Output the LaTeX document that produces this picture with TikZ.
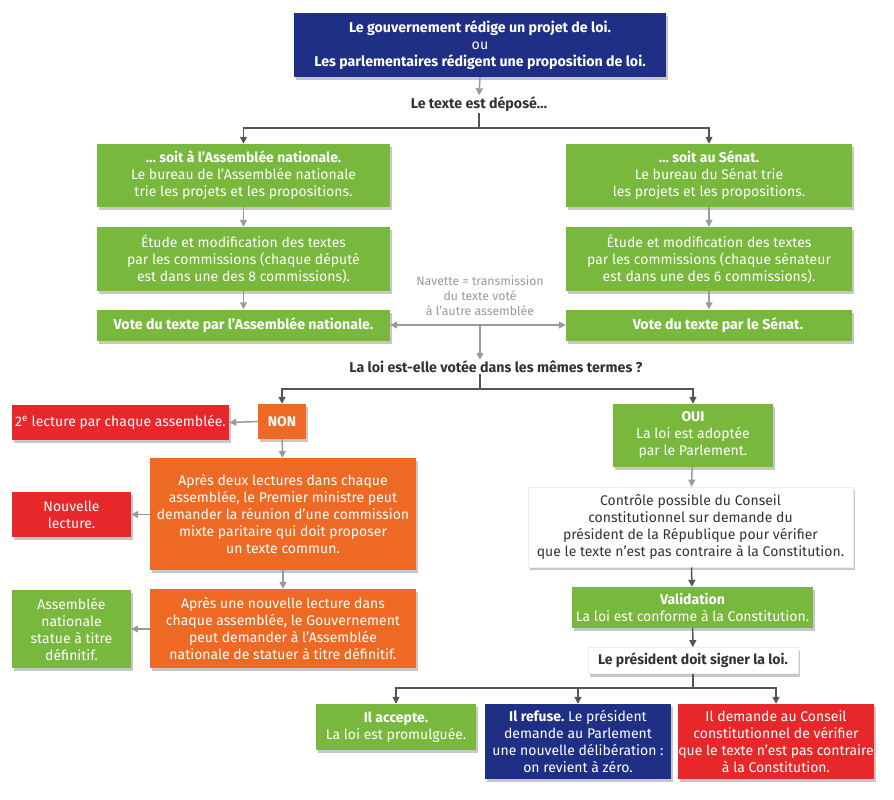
\documentclass[tikz,border=0pt]{standalone}
\usepackage{fontspec}
\setmainfont{Fira Sans}
\usetikzlibrary{arrows.meta,shadows}
\definecolor{cgreen}{HTML}{78B83C}
\definecolor{cnavy}{HTML}{1F2F85}
\definecolor{corange}{HTML}{EE6A24}
\definecolor{cred}{HTML}{E8272B}
\definecolor{cgrayA}{HTML}{9A9A9A}
\definecolor{cdark}{HTML}{555555}
\definecolor{ctext}{HTML}{333333}
\frenchspacing
\begin{document}
\frenchspacing
\begin{tikzpicture}[x=1pt,y=-1pt,
  bx/.style={inner sep=0pt, align=center, text=white,
    drop shadow={shadow xshift=2pt, shadow yshift=-3pt, opacity=0.22, fill=black}},
  sz/.style 2 args={minimum width=#1pt, minimum height=#2pt},
  cnd/.style={font=\fontsize{14}{17}\selectfont},
  cndb/.style={font=\bfseries\fontsize{14.2}{17}\selectfont},
  reg/.style={font=\fontsize{14}{17}\selectfont},
  regb/.style={font=\bfseries\fontsize{14}{17}\selectfont},
  plain/.style={inner sep=1pt, align=center, text=ctext},
  ga/.style={draw=cgrayA, line width=1.5pt, -{Triangle[length=7pt,width=7pt]}},
  da/.style={draw=cdark, line width=1.5pt, -{Triangle[length=7pt,width=7pt]}},
  dl/.style={draw=cdark, line width=1.5pt},
  gl/.style={draw=cgrayA, line width=1.5pt}]
\useasboundingbox (0,0) rectangle (894,800);
\fill[white] (0,0) rectangle (894,800);

% top
\node[bx, fill=cnavy, sz={372}{64}, cndb] (top) at (480,45)
  {Le gouvernement rédige un projet de loi.\\{\mdseries ou}\\Les parlementaires rédigent une proposition de loi.};
\node[plain, cndb] (dep) at (479,104) {Le texte est déposé…};
\coordinate (s1) at (479,128);

% columns
\node[bx, fill=cgreen, sz={293}{63}, cnd] (gA1) at (243.5,175.5)
  {\textbf{… soit à l’Assemblée nationale.}\\Le bureau de l’Assemblée nationale\\trie les projets et les propositions.};
\node[bx, fill=cgreen, sz={286}{63}, cnd] (gS1) at (709,175.5)
  {\textbf{… soit au Sénat.}\\Le bureau du Sénat trie\\les projets et les propositions.};
\node[bx, fill=cgreen, sz={293}{64}, cnd] (gA2) at (243.5,259)
  {Étude et modification des textes\\par les commissions (chaque député\\est dans une des 8 commissions).};
\node[bx, fill=cgreen, sz={286}{64}, cnd] (gS2) at (709,259)
  {Étude et modification des textes\\par les commissions (chaque sénateur\\est dans une des 6 commissions).};
\node[bx, fill=cgreen, sz={293}{31}, cndb] (vA) at (243.5,325)
  {Vote du texte par l’Assemblée nationale.};
\node[bx, fill=cgreen, sz={286}{31}, cndb] (vS) at (709,325)
  {\hspace*{18pt}Vote du texte par le Sénat.};
\node[inner sep=0pt, align=center, text=cgrayA, font=\fontsize{12.3}{15}\selectfont] (nav) at (480,296)
  {Navette = transmission\\du texte voté\\à l’autre assemblée};
\coordinate (nv) at (480,325);
\node[plain, cndb] (q) at (496,367) {La loi est-elle votée dans les mêmes termes ?};
\coordinate (s2) at (480,389);

% NON branch
\node[bx, fill=corange, sz={48}{35}, regb] (non) at (282,421.5) {NON};
\node[bx, fill=cred, sz={217}{35}, reg] (sec) at (120.5,422.5) {2\textsuperscript{e} lecture par chaque assemblée.};
\node[bx, fill=corange, sz={266}{112}, reg] (or1) at (283,514)
  {Après deux lectures dans chaque\\assemblée, le Premier ministre peut\\demander la réunion d’une commission\\mixte paritaire qui doit proposer\\un texte commun.};
\node[bx, fill=cred, sz={119}{45}, reg] (nouv) at (71.5,514.5) {Nouvelle\\lecture.};
\node[bx, fill=corange, sz={266}{79}, reg] (or2) at (283,628.5)
  {Après une nouvelle lecture dans\\chaque assemblée, le Gouvernement\\peut demander à l’Assemblée\\nationale de statuer à titre définitif.};
\node[bx, fill=cgreen, sz={119}{78}, reg] (ass) at (71.5,629)
  {Assemblée\\nationale\\statue à titre\\définitif.};

% OUI branch
\node[bx, fill=cgreen, sz={160}{63}, reg] (oui) at (693,435.5)
  {\textbf{OUI}\\La loi est adoptée\\par le Parlement.};
\node[bx, fill=white, draw=black!7, line width=0.8pt, text=ctext, sz={325}{80}, reg] (ctl) at (690.5,527)
  {Contrôle possible du Conseil\\constitutionnel sur demande du\\président de la République pour vérifier\\que le texte n’est pas contraire à la Constitution.};
\node[bx, fill=cgreen, sz={241}{41}, reg] (val) at (692.5,607.5)
  {\textbf{Validation}\\La loi est conforme à la Constitution.};
\node[bx, fill=white, draw=black!7, line width=0.8pt, text=ctext, sz={210}{26}, regb] (sig) at (693,660.5)
  {Le président doit signer la loi.};
\coordinate (s3) at (693,688);
\node[bx, fill=cgreen, sz={160}{46}, reg] (acc) at (396,727)
  {\textbf{Il accepte.}\\La loi est promulguée.};
\node[bx, fill=cnavy, sz={186}{75}, reg] (ref) at (578,741.5)
  {\textbf{Il refuse.} Le président\\demande au Parlement\\une nouvelle délibération~:\\on revient à zéro.};
\node[bx, fill=cred, sz={194}{75}, reg] (dem) at (776,741.5)
  {Il demande au Conseil\\constitutionnel de vérifier\\que le texte n’est pas contraire\\à la Constitution.};

% connectors
\draw[ga] (top.south) -- (dep.north);
\draw[dl] (dep.south) -- (s1);
\draw[da] (s1) -| (gA1.north);
\draw[da] (s1) -| (gS1.north);
\draw[ga] (gA1) -- (gA2);
\draw[ga] (gS1) -- (gS2);
\draw[ga] (gA2) -- (vA);
\draw[ga] (gS2) -- (vS);
\draw[gl, {Triangle[length=7pt,width=7pt]}-{Triangle[length=7pt,width=7pt]}] (vA.east) -- (vS.west);
\draw[ga] (nv) -- (nv |- q.north);
\draw[dl] (s2 |- q.south) -- (s2);
\draw[da] (s2) -| (non.north);
\draw[da] (s2) -| (oui.north);
\draw[ga] (non.west) -- (sec.east);
\draw[ga] (non) -- (or1);
\draw[ga] (or1.west |- nouv) -- (nouv.east);
\draw[ga] (or1) -- (or2);
\draw[ga] (or2.west |- ass) -- (ass.east);
\draw[ga] (oui) -- (ctl);
\draw[da] (ctl) -- (val);
\draw[da] (val) -- (sig);
\draw[dl] (sig.south) -- (s3);
\draw[da] (s3) -| (acc.north);
\draw[da] (s3) -| (ref.north);
\draw[da] (s3) -| (dem.north);
\end{tikzpicture}
\end{document}
